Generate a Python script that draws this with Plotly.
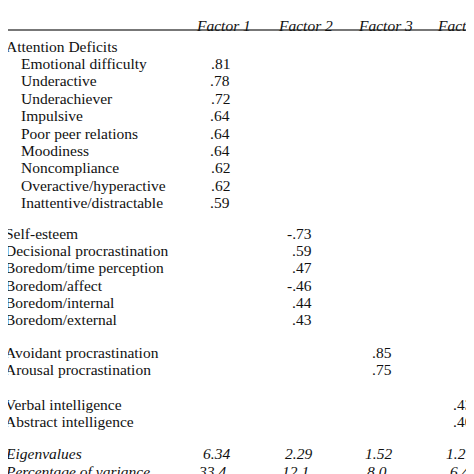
import plotly.graph_objects as go

headers = ["Factor 1", "Factor 2", "Factor 3", "Factor 4"]
group1 = "Attention Deficits"
f1_items = [("Emotional difficulty", ".81"), ("Underactive", ".78"), ("Underachiever", ".72"),
            ("Impulsive", ".64"), ("Poor peer relations", ".64"), ("Moodiness", ".64"),
            ("Noncompliance", ".62"), ("Overactive/hyperactive", ".62"), ("Inattentive/distractable", ".59")]
f2_items = [("Self-esteem", "-.73"), ("Decisional procrastination", ".59"), ("Boredom/time perception", ".47"),
            ("Boredom/affect", "-.46"), ("Boredom/internal", ".44"), ("Boredom/external", ".43")]
f3_items = [("Avoidant procrastination", ".85"), ("Arousal procrastination", ".75")]
f4_items = [("Verbal intelligence", ".43"), ("Abstract intelligence", ".40")]
eigenvalues = ["6.34", "2.29", "1.52", "1.21"]
variance = ["33.4", "12.1", "8.0", "6.4"]

W = H = 474
col_right = [224, 306, 386, 467]
var_left = [188, 272, 357, 440]
font = dict(family="Liberation Serif", size=15.5, color="#111")
ann = []
def t(x, y, s, anchor="left", italic=False):
    ann.append(dict(x=x / W, y=1 - y / H, text=f"<i>{s}</i>" if italic else s, showarrow=False,
                    xanchor=anchor, yanchor="middle", font=font, xref="paper", yref="paper"))

for i, h in enumerate(headers):
    t([215, 297, 377, 456][i], 17, h, "center", True)

y = 38
t(-4, y, group1)
for lab, v in f1_items:
    y += 17.4
    t(11, y, lab); t(col_right[0], y, v, "right")
for k, (items, col) in enumerate([(f2_items, 1), (f3_items, 2), (f4_items, 3)]):
    y = [225, 344, 396][k]
    for lab, v in items:
        t(-5, y, lab); t(col_right[col], y, v, "right")
        y += 17.4
t(-5, 445, "Eigenvalues", italic=True)
t(-5, 463, "Percentage of variance", italic=True)
for i in range(4):
    t(col_right[i], 445, eigenvalues[i], "right", True)
    t(var_left[i], 463, variance[i], "left", True)

fig = go.Figure()
fig.update_layout(width=W, height=H, margin=dict(l=0, r=0, t=0, b=0),
                  paper_bgcolor="white", plot_bgcolor="white", annotations=ann,
                  xaxis=dict(visible=False), yaxis=dict(visible=False),
                  shapes=[dict(type="line", x0=0, x1=1, y0=1 - 22 / H, y1=1 - 22 / H,
                               line=dict(color="#777", width=2), xref="paper", yref="paper")])
fig.write_html("out.html")
